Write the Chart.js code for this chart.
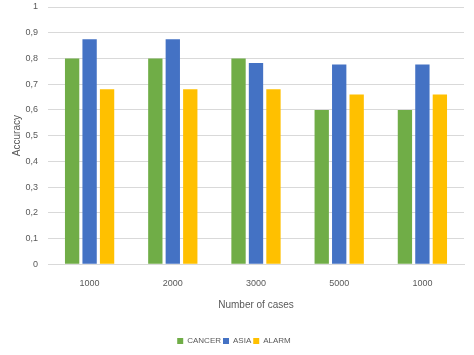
<!DOCTYPE html>
<html><head><meta charset="utf-8">
<script src="https://cdn.jsdelivr.net/npm/chart.js@4/dist/chart.umd.min.js"></script>
<style>html,body{margin:0;padding:0;background:#fff}#w{width:474px;height:355px}</style>
</head><body><div id="w"><canvas id="c"></canvas></div>
<script>
const categories = ["1000", "2000", "3000", "5000", "1000"];
const cancer = [0.8, 0.8, 0.8, 0.6, 0.6];
const asia = [0.875, 0.875, 0.782, 0.776, 0.776];
const alarm = [0.68, 0.68, 0.68, 0.66, 0.66];
const yTickLabels = {0:"0",0.1:"0,1",0.2:"0,2",0.3:"0,3",0.4:"0,4",0.5:"0,5",0.6:"0,6",0.7:"0,7",0.8:"0,8",0.9:"0,9",1:"1"};

const FONT = "'Liberation Sans', Arial, sans-serif";
new Chart(document.getElementById('c'), {
  type: 'bar',
  data: {
    labels: categories,
    datasets: [
      {label: 'CANCER', data: cancer, backgroundColor: '#70AD47'},
      {label: 'ASIA', data: asia, backgroundColor: '#4472C4'},
      {label: 'ALARM', data: alarm, backgroundColor: '#FFC000'}
    ]
  },
  options: {
    responsive: true, maintainAspectRatio: false, animation: false,
    layout: {autoPadding: false, padding: {top: 7, right: 10, left: 4, bottom: 0}},
    datasets: {bar: {categoryPercentage: 0.63, barPercentage: 0.82}},
    plugins: {
      legend: {position: 'bottom', labels: {boxWidth: 6, boxHeight: 6, padding: 2, color: '#595959', font: {family: FONT, size: 8}}},
      tooltip: {enabled: false}
    },
    scales: {
      x: {
        grid: {display: false},
        border: {color: '#d9d9d9'},
        ticks: {color: '#595959', font: {family: FONT, size: 9}, padding: 6},
        title: {display: true, text: 'Number of cases', color: '#595959', font: {family: FONT, size: 10}, padding: {top: 4, bottom: 24}}
      },
      y: {
        min: 0, max: 1,
        border: {display: false},
        grid: {color: '#d9d9d9', drawTicks: false},
        afterFit: (s) => { s.width = 44; s.paddingTop = 7; s.paddingBottom = 6; },
        ticks: {stepSize: 0.1, color: '#595959', font: {family: FONT, size: 9}, padding: 10,
          callback: (v) => yTickLabels[Math.round(v*10)/10]},
        title: {display: true, text: 'Accuracy', color: '#595959', font: {family: FONT, size: 10}, padding: {top: 7, bottom: 0}}
      }
    }
  }
});
</script></body></html>
